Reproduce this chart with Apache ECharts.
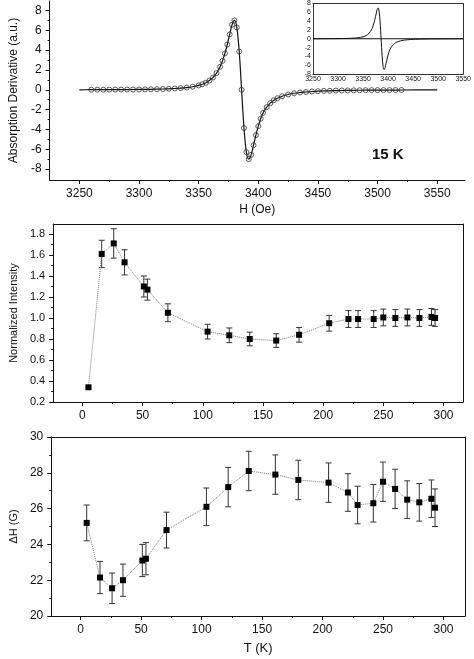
<!DOCTYPE html>
<html><head><meta charset="utf-8">
<script src="https://cdn.jsdelivr.net/npm/echarts@6/dist/echarts.min.js"></script>
<style>html,body{margin:0;padding:0;background:#fff}#c{width:474px;height:659px}</style>
</head><body><div id="c"></div>
<script>
// EPR spectrum at 15 K
const fieldH = [3260,3265,3270,3275,3280,3285,3290,3295,3300,3305,3310,3315,3320,3325,3330,3335,3340,3345,3350,3353,3356,3359,3362,3365,3368,3370,3372,3374,3376,3378,3380,3382,3384,3386,3388,3390,3392,3394,3396,3398,3400,3402,3404,3407,3410,3413,3416,3420,3425,3430,3435,3440,3445,3450,3455,3460,3465,3470,3475,3480,3485,3490,3495,3500,3505,3510,3515,3520];
const derivY = [0.01,0.012,0.015,0.017,0.02,0.023,0.027,0.031,0.037,0.044,0.053,0.065,0.08,0.1,0.13,0.17,0.225,0.31,0.44,0.56,0.715,0.93,1.24,1.69,2.33,2.92,3.67,4.57,5.59,6.56,7.0,6.29,3.86,0,-3.86,-6.29,-7.0,-6.56,-5.59,-4.57,-3.67,-2.92,-2.33,-1.75,-1.35,-1.05,-0.85,-0.65,-0.47,-0.35,-0.27,-0.22,-0.17,-0.14,-0.11,-0.1,-0.08,-0.07,-0.06,-0.05,-0.045,-0.04,-0.035,-0.03,-0.03,-0.03,-0.025,-0.02];
// temperature dependence
const tempK = [5,16,26,35,51,54,71,104,122,139,161,180,205,221,229,242,250,260,270,280,290,293];
const intensity = [0.34,1.61,1.71,1.53,1.30,1.27,1.05,0.87,0.835,0.80,0.785,0.84,0.95,0.99,0.99,0.99,1.005,1.0,1.005,1.0,1.01,1.0];
const intensityErr = [0.01,0.13,0.14,0.12,0.10,0.10,0.085,0.07,0.07,0.065,0.065,0.07,0.075,0.08,0.08,0.08,0.08,0.08,0.08,0.08,0.08,0.08];
const widthG = [25.2,22.15,21.55,22.0,23.1,23.2,24.8,26.1,27.2,28.1,27.9,27.6,27.45,26.9,26.2,26.3,27.5,27.1,26.5,26.35,26.55,26.05];
const widthErr = [1.0,0.9,0.85,0.9,0.9,0.9,1.0,1.05,1.1,1.1,1.1,1.1,1.1,1.05,1.05,1.05,1.1,1.1,1.05,1.05,1.05,1.05];
const hTicks = [3250,3300,3350,3400,3450,3500,3550];
const derivTicks = [-8,-6,-4,-2,0,2,4,6,8];
const tTicks = [0,50,100,150,200,250,300];

const F = 'Liberation Sans, Arial, sans-serif';
const plain = v=>String(+v.toFixed(2));
const lab = (s)=>({color:'#111',fontSize:s,fontFamily:F});
const fitLine = [[3250,0]].concat(fieldH.map((h,i)=>[h,derivY[i]])).concat([[3550,0]]);
const range = (a,b,s)=>{const r=[];for(let v=a;v<=b+1e-9;v+=s)r.push(+v.toFixed(3));return r;};

function errSeries(xi, yi, vals, errs){
  return {type:'custom', xAxisIndex:xi, yAxisIndex:yi, z:3,
    data: vals.map((v,i)=>[tempK[i], v-errs[i], v+errs[i]]),
    renderItem:(p,api)=>{
      const lo=api.coord([api.value(0),api.value(1)]), hi=api.coord([api.value(0),api.value(2)]);
      const st={stroke:'#333',lineWidth:1};
      return {type:'group',children:[
        {type:'line',shape:{x1:lo[0],y1:lo[1],x2:hi[0],y2:hi[1]},style:st},
        {type:'line',shape:{x1:lo[0]-3,y1:lo[1],x2:lo[0]+3,y2:lo[1]},style:st},
        {type:'line',shape:{x1:hi[0]-3,y1:hi[1],x2:hi[0]+3,y2:hi[1]},style:st}]};
    }};
}
const tk = (len, vals)=>({length:len,customValues:vals,lineStyle:{color:'#111'}});
const minorX = (g,min,max,vals)=>({gridIndex:g,type:'value',position:'bottom',min,max,axisLine:{show:false,onZero:false},axisLabel:{show:false},splitLine:{show:false},axisTick:tk(2,vals)});
const minorY = (g,min,max,vals)=>({gridIndex:g,type:'value',position:'left',min,max,axisLine:{show:false,onZero:false},axisLabel:{show:false},splitLine:{show:false},axisTick:tk(2,vals)});
const edge = (g,pos,c)=>({gridIndex:g,type:'value',position:pos,min:0,max:1,axisLine:{onZero:false,lineStyle:{color:c||'#111'}},axisLabel:{show:false},axisTick:{show:false},splitLine:{show:false}});

const grids = [
  {left:47,width:418,top:1,height:179},
  {left:313,width:151,top:3,height:71},
  {left:43,width:420,top:224,height:178},
  {left:43,width:422,top:437,height:179}
];
const xAxes = [
  {gridIndex:0,type:'value',position:'bottom',min:3225,max:3573.3,name:'H (Oe)',nameLocation:'middle',nameGap:24,nameTextStyle:lab(12),
    axisLine:{onZero:false,lineStyle:{color:'#111'}},splitLine:{show:false},
    axisLabel:Object.assign(lab(12),{customValues:hTicks,formatter:plain}),axisTick:tk(4,hTicks)},
  {gridIndex:1,type:'value',position:'bottom',min:3250,max:3550,interval:50,axisLine:{onZero:false,lineStyle:{color:'#333'}},axisTick:{show:false},splitLine:{show:false},
    axisLabel:Object.assign(lab(7),{margin:2,formatter:plain})},
  {gridIndex:2,type:'value',position:'bottom',min:-24.3,max:316.2,axisLine:{onZero:false,lineStyle:{color:'#111'}},splitLine:{show:false},
    axisLabel:Object.assign(lab(12),{customValues:tTicks,formatter:plain}),axisTick:tk(4,tTicks)},
  {gridIndex:3,type:'value',position:'bottom',min:-24.3,max:317.8,name:'T (K)',nameLocation:'middle',nameGap:26,nameTextStyle:lab(13),
    axisLine:{onZero:false,lineStyle:{color:'#111'}},splitLine:{show:false},
    axisLabel:Object.assign(lab(12),{customValues:tTicks,formatter:plain}),axisTick:tk(4,tTicks)},
  minorX(0,3225,3573.3,range(3275,3525,50)),
  minorX(2,-24.3,316.2,range(25,275,50)),
  minorX(3,-24.3,317.8,range(25,275,50)),
  edge(2,'top'), edge(3,'top'), edge(1,'top','#333')
];
const yAxes = [
  {gridIndex:0,type:'value',position:'left',min:-9.1,max:8.96,name:'Absorption Derivative (a.u.)',nameLocation:'middle',nameGap:29,nameTextStyle:lab(12),
    axisLine:{onZero:false,lineStyle:{color:'#111'}},splitLine:{show:false},
    axisLabel:Object.assign(lab(12),{customValues:derivTicks}),axisTick:tk(4,derivTicks)},
  {gridIndex:1,type:'value',position:'left',min:-8,max:8,interval:2,axisLine:{onZero:false,lineStyle:{color:'#333'}},axisTick:{show:false},splitLine:{show:false},axisLabel:Object.assign(lab(7),{margin:2})},
  {gridIndex:2,type:'value',position:'left',min:0.2,max:1.895,name:'Normalized Intensity',nameLocation:'middle',nameGap:30,nameTextStyle:lab(11),
    axisLine:{onZero:false,lineStyle:{color:'#111'}},splitLine:{show:false},
    axisLabel:Object.assign(lab(11),{customValues:[0.2,0.4,0.6,0.8,1.0,1.2,1.4,1.6,1.8],formatter:v=>v.toFixed(1)}),axisTick:tk(4,[0.2,0.4,0.6,0.8,1.0,1.2,1.4,1.6,1.8])},
  {gridIndex:3,type:'value',position:'left',min:20,max:30,interval:2,name:'ΔH (G)',nameLocation:'middle',nameGap:28,nameTextStyle:lab(11),
    axisLine:{onZero:false,lineStyle:{color:'#111'}},splitLine:{show:false},axisTick:{length:4,lineStyle:{color:'#111'}},axisLabel:lab(12)},
  minorY(0,-9.1,8.96,range(-7,7,2)),
  minorY(2,0.2,1.895,range(0.3,1.7,0.2)),
  minorY(3,20,30,range(21,29,2)),
  edge(2,'right'), edge(3,'right'), edge(1,'right','#333')
];

const option = {
  animation:false, backgroundColor:'#fff',
  grid:grids, xAxis:xAxes, yAxis:yAxes,
  graphic:[{type:'text',left:372,top:147,style:{text:'15 K',font:'bold 15px '+F,fill:'#111'}}],
  series:[
    {type:'line',xAxisIndex:0,yAxisIndex:0,data:fitLine,smooth:0.3,showSymbol:false,lineStyle:{color:'#111',width:1.2},z:2},
    {type:'scatter',xAxisIndex:0,yAxisIndex:0,data:fieldH.map((h,i)=>[h,derivY[i]]),symbol:'circle',symbolSize:5,
      itemStyle:{color:'rgba(255,255,255,0)',borderColor:'#333',borderWidth:1},z:3},
    {type:'line',xAxisIndex:1,yAxisIndex:1,data:fitLine,smooth:0.3,showSymbol:false,lineStyle:{color:'#111',width:1}},
    {type:'line',xAxisIndex:1,yAxisIndex:1,data:[[3250,0],[3550,0]],showSymbol:false,lineStyle:{color:'#111',width:1}},
    {type:'line',xAxisIndex:2,yAxisIndex:2,data:tempK.map((t,i)=>[t,intensity[i]]),symbol:'rect',symbolSize:6,
      itemStyle:{color:'#000'},lineStyle:{color:'#777',width:1,type:'dotted'},z:4},
    errSeries(2,2,intensity,intensityErr),
    {type:'line',xAxisIndex:3,yAxisIndex:3,data:tempK.map((t,i)=>[t,widthG[i]]),symbol:'rect',symbolSize:6,
      itemStyle:{color:'#000'},lineStyle:{color:'#777',width:1,type:'dotted'},z:4},
    errSeries(3,3,widthG,widthErr)
  ]
};
echarts.init(document.getElementById('c')).setOption(option);
</script></body></html>
